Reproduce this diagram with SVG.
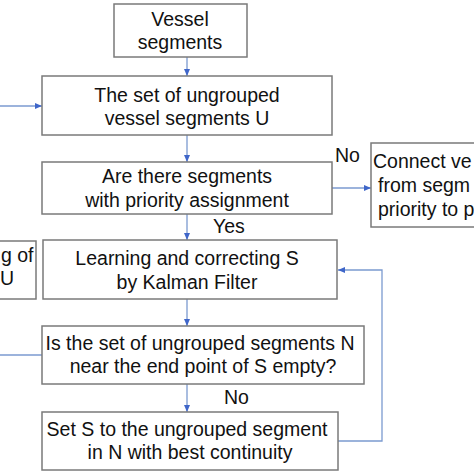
<svg xmlns="http://www.w3.org/2000/svg" width="474" height="474" viewBox="0 0 474 474">
<defs>
<style>
.box{fill:#fff;stroke:#7a7a7a;stroke-width:1.5}
.t{font-family:"Liberation Sans",Arial,sans-serif;font-size:19.5px;fill:#111;text-anchor:middle}
.l{font-family:"Liberation Sans",Arial,sans-serif;font-size:19.5px;fill:#111}
.c{fill:none;stroke:#7b9ad0;stroke-width:1.3}
</style>
<marker id="ah" markerWidth="8" markerHeight="8" refX="7" refY="4" orient="auto" markerUnits="userSpaceOnUse">
<path d="M0,1 L7,4 L0,7 Z" fill="#3f66c9"/>
</marker>
</defs>
<rect width="474" height="474" fill="#fff"/>
<g id="connectors">
<line class="c" x1="187" y1="57" x2="187" y2="76" marker-end="url(#ah)"/>
<line class="c" x1="187" y1="135" x2="187" y2="162" marker-end="url(#ah)"/>
<line class="c" x1="187" y1="214" x2="187" y2="240" marker-end="url(#ah)"/>
<line class="c" x1="187" y1="299" x2="187" y2="326" marker-end="url(#ah)"/>
<line class="c" x1="187" y1="384" x2="187" y2="412" marker-end="url(#ah)"/>
<line class="c" x1="0" y1="106" x2="42" y2="106" marker-end="url(#ah)"/>
<line class="c" x1="332" y1="188" x2="371" y2="188" marker-end="url(#ah)"/>
<polyline class="c" points="338,441 382,441 382,270 338,270" marker-end="url(#ah)"/>
<line class="c" x1="42" y1="355" x2="0" y2="355"/>
<text class="l" x="335" y="162">No</text>
<text class="l" x="213" y="233">Yes</text>
<text class="l" x="224" y="404">No</text>
</g>
<g id="vessel-segments">
<rect class="box" x="114" y="4" width="133" height="53"/>
<text class="t" x="180" y="26">Vessel</text>
<text class="t" x="180" y="49">segments</text>
</g>
<g id="ungrouped-set">
<rect class="box" x="42" y="76" width="290" height="59"/>
<text class="t" x="187" y="102">The set of ungrouped</text>
<text class="t" x="187" y="125">vessel segments U</text>
</g>
<g id="priority-check">
<rect class="box" x="42" y="162" width="290" height="52"/>
<text class="t" x="187" y="183">Are there segments</text>
<text class="t" x="187" y="207">with priority assignment</text>
</g>
<g id="connect-vessel">
<rect class="box" x="371" y="143" width="110" height="84"/>
<text class="l" x="373" y="168" font-size="19">Connect ve</text>
<text class="l" x="378" y="192" font-size="19">from segm</text>
<text class="l" x="378" y="216" font-size="19">priority to p</text>
</g>
<g id="left-box">
<rect class="box" x="-5" y="241" width="41" height="58"/>
<text class="l" x="1" y="262" font-size="17">g of</text>
<text class="l" x="0" y="285" font-size="17">U</text>
</g>
<g id="kalman">
<rect class="box" x="43" y="240" width="294" height="59"/>
<text class="t" x="187" y="265">Learning and correcting S</text>
<text class="t" x="187" y="289">by Kalman Filter</text>
</g>
<g id="empty-check">
<rect class="box" x="42" y="326" width="322" height="58"/>
<text class="t" x="200" y="350">Is the set of ungrouped segments N</text>
<text class="t" x="203" y="373">near the end point of S empty?</text>
</g>
<g id="set-s">
<rect class="box" x="42" y="412" width="296" height="58"/>
<text class="t" x="187" y="436">Set S to the ungrouped segment</text>
<text class="t" x="190" y="459">in N with best continuity</text>
</g>
</svg>
